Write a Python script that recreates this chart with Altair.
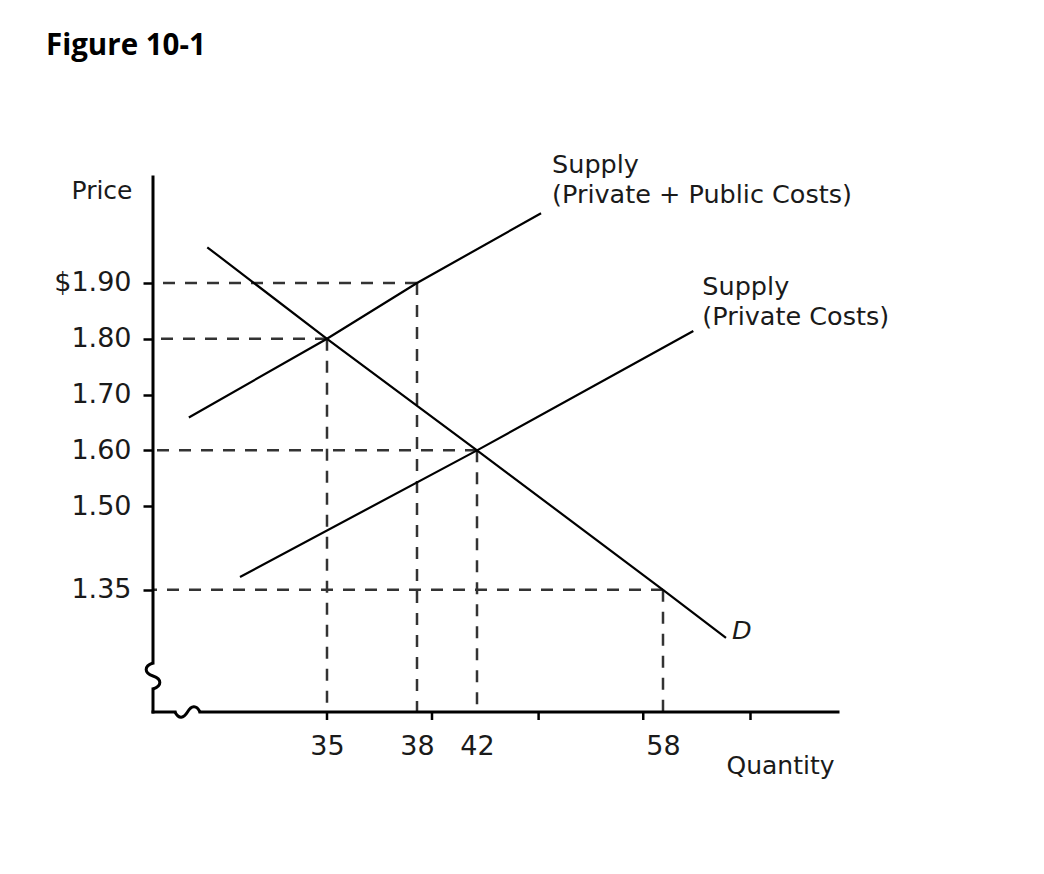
import altair as alt
import pandas as pd

# ---- data ----
guide_q = [35, 38, 42, 58]
guide_p = [1.80, 1.90, 1.60, 1.35]

demand_q = [31.56, 35, 42, 58, 62.32]
demand_p = [1.964, 1.80, 1.60, 1.35, 1.264]
social_q = [31.03, 35, 38, 47.51]
social_p = [1.659, 1.80, 1.90, 2.025]
private_q = [32.5, 42, 60.08]
private_p = [1.373, 1.60, 1.814]

y_ticks = [1.35, 1.50, 1.60, 1.70, 1.80, 1.90]
x_labels = [35, 38, 42, 58]
x_marks = [35, 39, 47.3, 56.3, 64]

W, H = 685, 535
FONT = "DejaVu Sans"
INK = "#1a1a1a"

rows = []
for name, qs, ps in [("Demand", demand_q, demand_p),
                     ("Social", social_q, social_p),
                     ("Private", private_q, private_p)]:
    for i, (q, p) in enumerate(zip(qs, ps)):
        rows.append({"series": name, "order": i, "q": q, "p": p})
curves = pd.DataFrame(rows)
guides = pd.DataFrame({"q": guide_q, "p": guide_p})
marks = pd.DataFrame({"q": x_marks})
one = pd.DataFrame({"k": [0]})

xs = alt.Scale(domain=[30, 35, 38, 42, 58, 70], range=[0, 174, 264, 324, 510, 685],
               nice=False, zero=False)
ys = alt.Scale(domain=[1.131, 2.090], nice=False, zero=False)

x_axis = alt.Axis(values=x_labels, domain=False, ticks=False, tickSize=0, grid=False,
                  labelFont=FONT, labelFontSize=27, labelColor=INK, labelPadding=42,
                  labelBaseline="alphabetic", labelFlush=False, labelOverlap=False,
                  title="Quantity", titleFont=FONT, titleFontSize=25, titleFontWeight="normal",
                  titleColor=INK, titleX=627, titleY=61, titleAlign="center",
                  titleBaseline="alphabetic")
y_axis = alt.Axis(values=y_ticks, domain=False, grid=False, tickSize=10, tickWidth=2.5,
                  tickColor="black",
                  labelExpr="(datum.value > 1.89 ? '$' : '') + format(datum.value, '.2f')",
                  labelFont=FONT, labelFontSize=27, labelPadding=12, labelColor=INK,
                  labelFlush=False, labelOverlap=False,
                  title="Price", titleAngle=0, titleX=-21, titleY=21, titleAlign="right",
                  titleBaseline="alphabetic", titleFont=FONT, titleFontSize=25,
                  titleFontWeight="normal", titleColor=INK)

X = lambda: alt.X("q:Q", scale=xs, axis=x_axis)
Y = lambda: alt.Y("p:Q", scale=ys, axis=y_axis)

dash = dict(color="#333333", strokeWidth=2.5, strokeDash=[12, 10])
hguide = alt.Chart(guides).mark_rule(**dash).encode(x=X(), x2=alt.value(0), y=Y())
vguide = alt.Chart(guides).mark_rule(**dash).encode(x=X(), y=Y(), y2=alt.value(H))

curve_layer = alt.Chart(curves).mark_line(color="black", strokeWidth=2.2).encode(
    x=X(), y=Y(), detail="series:N", order="order:Q",
)

axis_style = dict(color="black", strokeWidth=3, strokeCap="square")
yax1 = alt.Chart(one).mark_rule(**axis_style).encode(x=alt.value(0), y=alt.value(0), y2=alt.value(486))
yax2 = alt.Chart(one).mark_rule(**axis_style).encode(x=alt.value(0), y=alt.value(512), y2=alt.value(H))
xax1 = alt.Chart(one).mark_rule(**axis_style).encode(y=alt.value(H), x=alt.value(0), x2=alt.value(22))
xax2 = alt.Chart(one).mark_rule(**axis_style).encode(y=alt.value(H), x=alt.value(47), x2=alt.value(W))

ysq = alt.Chart(one).mark_point(
    shape="M0,-1 C-0.7,-0.77 -0.7,-0.23 0,0 C0.7,0.23 0.7,0.77 0,1",
    size=676, filled=False, color="black", strokeWidth=3, opacity=1
).encode(x=alt.value(0), y=alt.value(499))
xsq = alt.Chart(one).mark_point(
    shape="M-1,0 C-0.7,0.6 -0.3,0.5 0,0 C0.3,-0.5 0.7,-0.6 1,0",
    size=625, filled=False, color="black", strokeWidth=3, opacity=1
).encode(x=alt.value(34.5), y=alt.value(H))

tick_layer = alt.Chart(marks).mark_rule(color="black", strokeWidth=2.5).encode(
    x=X(), y=alt.value(H), y2=alt.value(H + 8))

lab_social = pd.DataFrame({"q": [social_q[-1]], "p": [social_p[-1]],
                           "t": ["Supply\n(Private + Public Costs)"]})
lab_private = pd.DataFrame({"q": [private_q[-1]], "p": [private_p[-1]],
                            "t": ["Supply\n(Private Costs)"]})
lab_demand = pd.DataFrame({"q": [demand_q[-1]], "p": [demand_p[-1]], "t": ["D"]})

txt = dict(align="left", baseline="alphabetic", lineBreak="\n", lineHeight=30,
           font=FONT, fontSize=25.5, color=INK)
t1 = alt.Chart(lab_social).mark_text(dx=11, dy=-40, **txt).encode(x=X(), y=Y(), text="t:N")
t2 = alt.Chart(lab_private).mark_text(dx=9, dy=-36, **txt).encode(x=X(), y=Y(), text="t:N")
t3 = alt.Chart(lab_demand).mark_text(dx=6, dy=1, fontStyle="italic", **txt).encode(
    x=X(), y=Y(), text="t:N")

title = alt.Chart(one).mark_text(align="left", baseline="alphabetic", font="Open Sans",
                                 fontSize=29.5, fontWeight="bold", color="black").encode(
    x=alt.value(-107), y=alt.value(-122), text=alt.value("Figure 10-1"))

chart = alt.layer(
    hguide, vguide, curve_layer, yax1, yax2, xax1, xax2, ysq, xsq, tick_layer,
    t1, t2, t3, title
).properties(
    width=W, height=H,
    autosize=alt.AutoSizeParams(type="none"),
    padding={"left": 153, "top": 177, "right": 206, "bottom": 162},
    background="white",
).configure_view(stroke=None)

chart.save("out.html", embed_options={"renderer": "svg", "actions": False})
